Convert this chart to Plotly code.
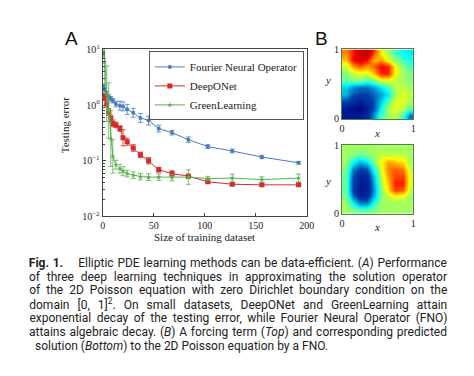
import numpy as np
import plotly.graph_objects as go

# ---------------- data ----------------
sizes = [1, 2, 4, 6, 8, 10, 13, 17, 20, 24, 30, 37, 45, 55, 68, 84, 103, 127, 156, 192]
fno = [2.2, 1.9, 1.6, 1.4, 1.3, 1.2, 1.05, 0.98, 0.95, 0.84, 0.73, 0.59, 0.53, 0.38, 0.32, 0.24, 0.18, 0.15, 0.117, 0.092]
deeponet = [1.4, 1.4, 1.05, 0.75, 0.58, 0.47, 0.44, 0.38, 0.26, 0.22, 0.17, 0.128, 0.1, 0.069, 0.059, 0.053, 0.042, 0.038, 0.037, 0.037]
green = [14.0, 5.9, 1.6, 0.8, 0.25, 0.12, 0.085, 0.072, 0.065, 0.059, 0.055, 0.052, 0.051, 0.051, 0.05, 0.051, 0.048, 0.049, 0.046, 0.049]
# error bar half-spread in decades (log10 units)
fno_err = [0.04, 0.04, 0.04, 0.04, 0.04, 0.04, 0.05, 0.08, 0.08, 0.09, 0.08, 0.08, 0.08, 0.06, 0.04, 0.05, 0.035, 0.035, 0.03, 0.025]
deeponet_err = [0.06, 0.06, 0.06, 0.06, 0.06, 0.06, 0.05, 0.05, 0.145, 0.065, 0.06, 0.05, 0.058, 0.04, 0.05, 0.035, 0.03, 0.025, 0.025, 0.025]
green_err = [0.3, 0.4, 0.5, 0.5, 0.5, 0.3, 0.08, 0.08, 0.08, 0.06, 0.06, 0.06, 0.06, 0.06, 0.06, 0.13, 0.04, 0.07, 0.05, 0.07]

series_names = ["Fourier Neural Operator", "DeepONet", "GreenLearning"]
x_ticks = [0, 50, 100, 150, 200]
y_ticks = [0.01, 0.1, 1, 10]
y_ticktext = ["10<sup>−2</sup>", "10<sup>−1</sup>", "10<sup>0</sup>", "10<sup>1</sup>"]

# Panel B fields (rows bottom->top, columns left->right), cell centres on [0,1]
grid = [0.05, 0.15, 0.25, 0.35, 0.45, 0.55, 0.65, 0.75, 0.85, 0.95]
forcing = [
    [-0.85, -0.85, -0.85, -0.7, -0.4, -0.1, 0.05, 0.1, -0.1, -0.5],
    [-0.8, -0.9, -0.95, -0.8, -0.55, -0.2, 0.05, 0.15, 0.1, -0.05],
    [-0.6, -0.7, -0.8, -0.7, -0.55, -0.3, -0.05, 0.15, 0.15, 0.05],
    [-0.35, -0.55, -0.6, -0.6, -0.5, -0.4, -0.25, 0.05, 0.15, 0.1],
    [-0.3, -0.45, -0.5, -0.5, -0.4, -0.25, -0.1, 0.1, 0.1, 0.05],
    [-0.05, 0.0, 0.0, -0.1, 0.0, 0.15, 0.15, 0.1, 0.05, 0.0],
    [0.0, 0.1, 0.15, 0.15, 0.3, 0.55, 0.55, 0.2, 0.05, 0.0],
    [0.1, 0.35, 0.45, 0.35, 0.45, 0.6, 0.55, 0.2, 0.0, -0.1],
    [0.3, 0.6, 0.7, 0.6, 0.3, 0.35, 0.15, 0.0, -0.1, -0.2],
    [0.4, 0.55, 0.75, 0.8, 0.5, 0.2, 0.05, -0.1, -0.2, -0.25],
]
solution = [
    [0.05, 0.0, -0.05, -0.05, 0.0, 0.05, 0.05, 0.05, 0.05, 0.05],
    [0.05, -0.2, -0.45, -0.45, -0.15, 0.05, 0.05, 0.05, 0.05, 0.05],
    [0.0, -0.5, -0.75, -0.7, -0.35, 0.0, 0.1, 0.2, 0.15, 0.05],
    [-0.05, -0.6, -0.85, -0.8, -0.4, 0.0, 0.25, 0.5, 0.45, 0.1],
    [-0.05, -0.6, -0.8, -0.8, -0.35, 0.05, 0.3, 0.55, 0.55, 0.15],
    [-0.05, -0.55, -0.75, -0.7, -0.3, 0.1, 0.35, 0.5, 0.5, 0.15],
    [0.0, -0.45, -0.6, -0.55, -0.15, 0.15, 0.4, 0.45, 0.4, 0.1],
    [0.05, -0.2, -0.35, -0.25, 0.0, 0.2, 0.35, 0.3, 0.25, 0.05],
    [0.05, 0.0, -0.05, 0.0, 0.05, 0.1, 0.1, 0.1, 0.1, 0.05],
    [0.05, 0.05, 0.05, 0.05, 0.05, 0.05, 0.05, 0.05, 0.05, 0.05],
]

caption_lines = [
    "<b>Fig. 1.</b>    Elliptic PDE learning methods can be data-efficient. (<i>A</i>) Performance",
    "of three deep learning techniques in approximating the solution operator",
    "of the 2D Poisson equation with zero Dirichlet boundary condition on the",
    "domain [0, 1]<sup>2</sup>. On small datasets, DeepONet and GreenLearning attain",
    "exponential decay of the testing error, while Fourier Neural Operator (FNO)",
    "attains algebraic decay. (<i>B</i>) A forcing term (<i>Top</i>) and corresponding predicted",
    "solution (<i>Bottom</i>) to the 2D Poisson equation by a FNO.",
]

# ---------------- figure ----------------
W, H = 474, 376
def px_x(p): return p / W
def px_y(p): return 1 - p / H

SERIF = "Liberation Serif"
colors = ["#4a7bbf", "#d42a2a", "#58b04c"]
symbols = ["circle", "square", "star"]
msizes = [4, 5, 4]

fig = go.Figure()
for name, ys, errs, c, s, ms in zip(series_names, [fno, deeponet, green],
                                    [fno_err, deeponet_err, green_err],
                                    colors, symbols, msizes):
    ya = np.array(ys)
    ea = np.array(errs)
    plus = ya * (10 ** ea - 1)
    minus = ya * (1 - 10 ** (-ea))
    fig.add_trace(go.Scatter(
        x=sizes, y=ys, name=name, mode="lines+markers",
        line=dict(color=c, width=1),
        marker=dict(color=c, size=ms, symbol=s),
        error_y=dict(type="data", symmetric=False, array=plus, arrayminus=minus,
                     color=c, thickness=0.8, width=2.5),
        xaxis="x", yaxis="y",
    ))

fig.add_trace(go.Heatmap(x=grid, y=grid, z=forcing, colorscale="Jet", zmin=-1, zmax=1,
                         zsmooth="best", showscale=False, xaxis="x2", yaxis="y2",
                         hoverinfo="skip"))
fig.add_trace(go.Heatmap(x=grid, y=grid, z=solution, colorscale="Jet", zmin=-1, zmax=1,
                         zsmooth="best", showscale=False, xaxis="x3", yaxis="y3",
                         hoverinfo="skip"))

axis_common = dict(showgrid=False, zeroline=False, showline=True, linecolor="#444",
                   linewidth=1, mirror=True, ticks="inside",
                   tickfont=dict(family=SERIF, size=10, color="#222"))

minor_vals = [m * 10 ** e for e in (-2, -1, 0) for m in range(2, 10)]

fig.update_layout(
    width=W, height=H, margin=dict(l=0, r=0, t=0, b=0),
    paper_bgcolor="white", plot_bgcolor="white",
    showlegend=True,
    legend=dict(x=px_x(308), y=px_y(46), xanchor="right", yanchor="top",
                bgcolor="white", bordercolor="#555", borderwidth=1,
                font=dict(family=SERIF, size=11, color="#222"),
                tracegroupgap=0, itemwidth=30),
    xaxis=dict(domain=[px_x(102), px_x(311)], range=[0, 200], tickvals=x_ticks,
               ticklen=3, anchor="y", **axis_common),
    yaxis=dict(domain=[px_y(217), px_y(44)], type="log", range=[-2, 1],
               tickvals=y_ticks, ticktext=y_ticktext, ticklen=3, anchor="x",
               minor=dict(ticks="inside", ticklen=2, tickvals=minor_vals, tickcolor="#444"),
               **axis_common),
    xaxis2=dict(domain=[px_x(347), px_x(420)], range=[0, 1], tickvals=[0, 1],
                ticklen=0, anchor="y2", **axis_common),
    yaxis2=dict(domain=[px_y(116), px_y(44)], range=[0, 1], tickvals=[0, 1],
                ticklen=0, anchor="x2", **axis_common),
    xaxis3=dict(domain=[px_x(347), px_x(420)], range=[0, 1], tickvals=[0, 1],
                ticklen=0, anchor="y3", **axis_common),
    yaxis3=dict(domain=[px_y(214), px_y(143)], range=[0, 1], tickvals=[0, 1],
                ticklen=0, anchor="x3", **axis_common),
)
for ax in ("xaxis2", "yaxis2", "xaxis3", "yaxis3"):
    fig.layout[ax].linecolor = "#5a7a50"

def label(xx, yy, text, size=11, family=SERIF, angle=0, color="#222"):
    return dict(x=px_x(xx), y=px_y(yy), text=text, showarrow=False, textangle=angle,
                xref="paper", yref="paper", xanchor="center", yanchor="middle",
                font=dict(family=family, size=size, color=color))

ann = []
ann.append(label(206, 238, "Size of training dataset"))
ann.append(label(63, 122, "Testing error", angle=-90))
for (xx, yy, t) in [(333, 76, "y"), (383, 130, "x"), (333, 180, "y"), (383, 228, "x")]:
    ann.append(label(xx, yy, "<i>%s</i>" % t))
ann.append(label(70, 33, "A", size=19, family="Liberation Sans", color="#111"))
ann.append(label(326, 33, "B", size=19, family="Liberation Sans", color="#111"))
# caption (centred on the justified column 32..450 px)
for i, line in enumerate(caption_lines):
    last = i == len(caption_lines) - 1
    ann.append(dict(x=px_x(32) if last else px_x(241), y=px_y(265 + i * 14.3), text=line,
                    showarrow=False, xref="paper", yref="paper", borderpad=0,
                    xanchor="left" if last else "center", yanchor="middle",
                    font=dict(family="Roboto", size=12, color="#222")))
fig.update_layout(annotations=ann)

post = """
document.body.style.margin = '0';
function justifyCaption() {
  var gd = document.getElementById('{plot_id}');
  var texts = gd.querySelectorAll('.annotation-text');
  texts.forEach(function (t) {
    var s = t.textContent || '';
    if (s.length < 60 || s.indexOf('FNO.') >= 0) return;
    t.style.wordSpacing = '0px';
    var w = t.getComputedTextLength();
    var n = (s.match(/ /g) || []).length;
    if (n > 0 && w < 418) t.style.wordSpacing = ((418 - w) / n) + 'px';
  });
}
justifyCaption();
setTimeout(justifyCaption, 100);
setTimeout(justifyCaption, 600);
"""
fig.write_html("out.html", post_script=post, config={"displayModeBar": False})
